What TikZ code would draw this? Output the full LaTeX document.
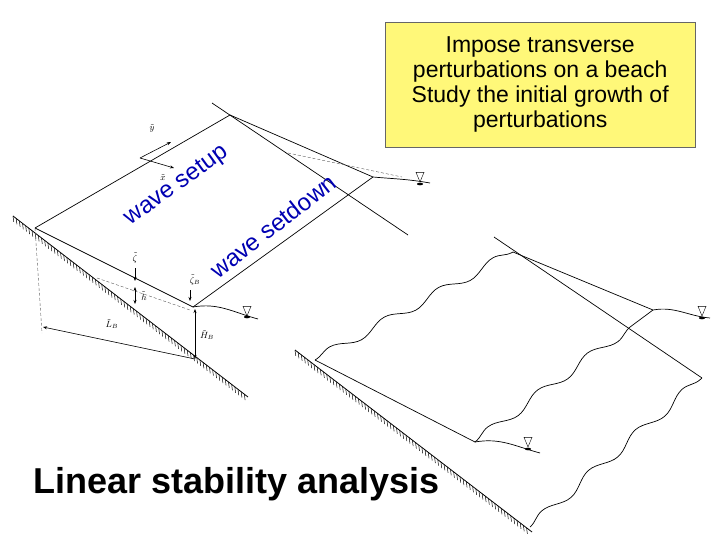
\documentclass[tikz,border=0pt]{standalone}
\usepackage{fontspec}
\setmainfont{Liberation Sans}
\usetikzlibrary{decorations.pathmorphing,decorations.pathreplacing,decorations.markings,arrows.meta,shapes.geometric}
\begin{document}
\begin{tikzpicture}[x=1pt,y=-1pt,
  ln/.style={line width=0.7pt},
  dsh/.style={densely dashed,line width=0.4pt,gray!70!black},
  hatch/.style={line width=0.8pt,postaction={decorate,draw,line width=0.5pt,decoration={border,segment length=4pt,amplitude=6pt,angle=-45}}},
  wav/.style={line width=0.7pt,decorate,decoration={snake,segment length=62pt,amplitude=4.5pt}},
  blue text/.style={text=blue!70!black,font=\fontsize{24}{28}\selectfont},
  lab/.style={font=\fontfamily{lmr}\selectfont\small,inner sep=0.5pt},
  arr/.style={-{Stealth[length=4pt,width=3pt]},line width=0.6pt},
  wl/.style={draw,isosceles triangle,shape border rotate=-90,minimum size=0pt,inner sep=0pt}
]
\useasboundingbox (0,0) rectangle (720,540);
% text box
\node[draw=black!60,fill=yellow!50!white!95!yellow,minimum width=310pt,minimum height=125pt,anchor=north west,align=center,font=\fontsize{23}{25}\selectfont] (box) at (385,22) {Impose transverse\\perturbations on a beach\\Study the initial growth of\\perturbations};
\node[anchor=west,font=\fontsize{36}{40}\selectfont\bfseries] (title) at (30,484) {Linear stability analysis};
% ---- left diagram
\coordinate (h1) at (13,216); \coordinate (h2) at (248,397);
\coordinate (A) at (35,228); \coordinate (B) at (230,115);
\coordinate (B0) at (212,103); \coordinate (B1) at (408,235);
\coordinate (C) at (373,177); \coordinate (C1) at (430,183);
\coordinate (D) at (193,307); \coordinate (D1) at (258,319);
\draw[hatch] (h1) -- (h2);
\draw[ln] (A) -- (B);
\draw[ln] (B0) -- (B1);
\draw[ln] (B) -- (C);
\draw[ln] (C) to[out=-5,in=170] (C1);
\draw[ln] (A) -- (D);
\draw[ln] (D) -- (C);
\draw[ln] (D) to[out=10,in=165] (D1);
\coordinate (dA) at (288,153); \coordinate (dB) at (402,177);
\draw[dsh] (dA) -- (dB);
\coordinate (dC) at (97,278); \coordinate (dD) at (190,310);
\draw[dsh] (dC) -- (dD);
\coordinate (Lv) at (42,333);
\draw[dsh] (A) -- (Lv);
\coordinate (Lb) at (195,359); \coordinate (La) at (43,327);
\draw[arr] (Lb) -- (La);
\node[lab] (LB) at (112,324) {$\tilde L_{B}$};
\coordinate (Hb) at (195,309);
\draw[arr,{Stealth[length=4pt,width=3pt]}-{Stealth[length=4pt,width=3pt]}] (Hb) -- (Lb);
\node[lab] (HB) at (207,335) {$\tilde H_{B}$};
\node[lab] (zeta) at (135,258) {$\tilde\zeta$};
\coordinate (z1) at (135,268); \coordinate (z2) at (135,281);
\draw[arr] (z1) -- (z2);
\coordinate (hh1) at (135,287); \coordinate (hh2) at (135,304);
\draw[arr,{Stealth[length=4pt,width=3pt]}-{Stealth[length=4pt,width=3pt]}] (hh1) -- (hh2);
\node[lab] (hlab) at (144,296) {$\tilde h$};
\node[lab] (zetaB) at (195,280) {$\tilde\zeta_{B}$};
\coordinate (zb1) at (190,290); \coordinate (zb2) at (190,301);
\draw[arr] (zb1) -- (zb2);
\coordinate (o) at (140,158); \coordinate (ya) at (171,142); \coordinate (xa) at (174,168);
\draw[arr] (o) -- (ya); \draw[arr] (o) -- (xa);
\node[lab] (ylab) at (152,128) {$\tilde y$};
\node[lab] (xlab) at (163,177) {$\tilde x$};
\node[wl,minimum width=8pt,minimum height=8pt] (t1) at (247,309) {};
\node[wl,minimum width=8pt,minimum height=8pt] (t2) at (420,175) {};
\fill (247,317) ellipse (3pt and 1.3pt); \fill (420,184) ellipse (3pt and 1.3pt);
\node[blue text,rotate=36] (ws) at (177,186) {wave setup};
\node[blue text,rotate=38] (wsd) at (273,226) {wave setdown};
% ---- right diagram
\coordinate (r1) at (295,350); \coordinate (r2) at (532,532);
\coordinate (E) at (315,360); \coordinate (F) at (513,252);
\coordinate (F0) at (494,237); \coordinate (F1) at (702,378);
\coordinate (G) at (653,310); \coordinate (G1) at (710,318);
\coordinate (H) at (475,442); \coordinate (H1) at (540,453);
\coordinate (K) at (530,527);
\draw[hatch] (r1) -- (r2);
\draw[wav] (E) -- (F);
\draw[ln] (F0) -- (F1);
\draw[ln] (F) -- (G);
\draw[ln] (G) to[out=10,in=175] (G1);
\draw[ln] (E) -- (H);
\draw[ln] (H) to[out=10,in=165] (H1);
\draw[wav] (H) -- (G);
\draw[wav] (K) -- (F1);
\node[wl,minimum width=8pt,minimum height=8pt] (t3) at (702,309) {};
\node[wl,minimum width=8pt,minimum height=8pt] (t4) at (528,440) {};
\fill (702,318) ellipse (3pt and 1.3pt); \fill (528,449) ellipse (3pt and 1.3pt);
\end{tikzpicture}
\end{document}
